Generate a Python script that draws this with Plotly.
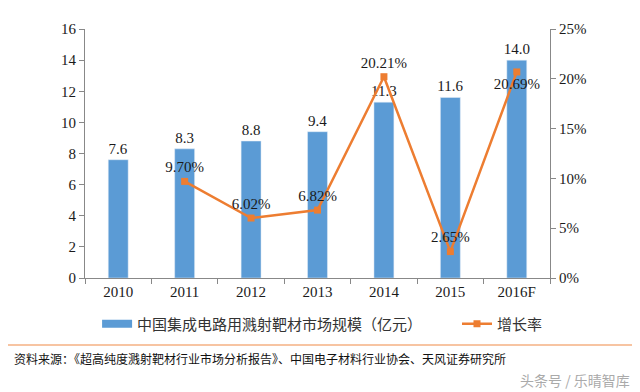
import plotly.graph_objects as go

years = ["2010", "2011", "2012", "2013", "2014", "2015", "2016F"]
market = [7.6, 8.3, 8.8, 9.4, 11.3, 11.6, 14.0]
growth_years = ["2011", "2012", "2013", "2014", "2015", "2016F"]
growth = [0.0970, 0.0602, 0.0682, 0.2021, 0.0265, 0.2069]
growth_pos = ["top center", "top center", "top center", "top center", "top center", "bottom center"]
bar_name = "中国集成电路用溅射靶材市场规模（亿元）"
line_name = "增长率"

serif = "Liberation Serif, Times New Roman, serif"
cjk = "Noto Sans CJK SC, sans-serif"
txt = "#1a1a1a"
blue = "#5B9BD5"
orange = "#ED7D31"

fig = go.Figure()
fig.add_trace(go.Bar(
    x=years, y=market, name=bar_name, showlegend=False,
    marker_color=blue, width=0.3,
    text=[f"{v:.1f}" for v in market], textposition="outside", constraintext="none",
    textfont=dict(family=serif, size=15, color=txt), cliponaxis=False,
))
# legend-only entry giving the wide rectangular swatch of the bar series
fig.add_trace(go.Scatter(
    x=[None], y=[None], name=bar_name, mode="lines",
    line=dict(color=blue, width=8), hoverinfo="skip", legend="legend",
))
fig.add_trace(go.Scatter(
    x=growth_years, y=growth, name=line_name, yaxis="y2", legend="legend2",
    mode="lines+markers+text", line=dict(color=orange, width=2.5),
    marker=dict(symbol="square", size=7, color=orange),
    text=[f"{v*100:.2f}%" for v in growth], textposition=growth_pos,
    textfont=dict(family=serif, size=15, color=txt), cliponaxis=False,
))

legend_common = dict(orientation="h", xanchor="left", y=-0.185, yanchor="middle",
                     font=dict(family=cjk, size=15, color="#333"), itemwidth=30,
                     bgcolor="rgba(0,0,0,0)")

# page body has an 8px margin: figure is drawn 8px in from the top-left
fig.update_layout(
    width=632, height=384,
    margin=dict(l=77, r=90, t=21, b=114),
    paper_bgcolor="white", plot_bgcolor="white",
    showlegend=True,
    legend=dict(x=0.026, **legend_common),
    legend2=dict(x=0.8, **legend_common),
    xaxis=dict(type="category", showline=True, linecolor="#888", linewidth=1,
               ticks="outside", tickson="boundaries", ticklen=5, tickcolor="#888",
               tickfont=dict(family=serif, size=15, color=txt),
               range=[-0.5, 6.5]),
    yaxis=dict(range=[0, 16], dtick=2, showgrid=False, showline=True, linecolor="#888",
               ticks="outside", ticklen=5, tickcolor="#888", zeroline=False,
               tickfont=dict(family=serif, size=15, color=txt)),
    yaxis2=dict(range=[0, 0.25], dtick=0.05, tickformat=".0%", overlaying="y", side="right",
                showgrid=False, showline=True, linecolor="#888", ticks="outside",
                ticklen=5, tickcolor="#888", zeroline=False,
                tickfont=dict(family=serif, size=15, color=txt)),
    shapes=[dict(type="line", xref="paper", yref="paper", x0=-0.172, x1=1.194,
                 y0=-0.269, y1=-0.269, line=dict(color="#F4B183", width=1.5))],
    annotations=[
        dict(text="资料来源：《超高纯度溅射靶材行业市场分析报告》、中国电子材料行业协会、天风证券研究所",
             xref="paper", yref="paper", x=-0.157, y=-0.325, xanchor="left", yanchor="middle",
             showarrow=False, font=dict(family=cjk, size=12, color="#111")),
        dict(text="头条号 / 乐晴智库", xref="paper", yref="paper", x=1.176, y=-0.41,
             xanchor="right", yanchor="middle", showarrow=False,
             font=dict(family=cjk, size=14, color="#aaa")),
    ],
)

fig.write_html("out.html")
